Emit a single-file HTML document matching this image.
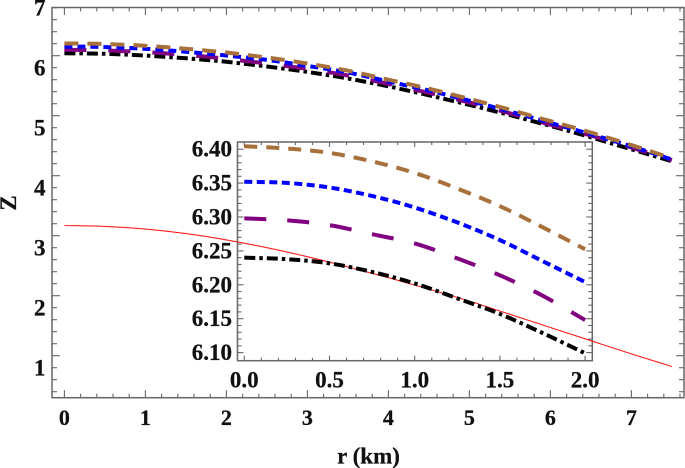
<!DOCTYPE html>
<html lang="en">
<head>
<meta charset="utf-8">
<title>Z versus r chart</title>
<style>
html,body{margin:0;padding:0;background:#fff;}
body{width:685px;height:468px;overflow:hidden;}
svg{display:block;}
text{font-family:"Liberation Serif",serif;font-weight:bold;fill:#111;stroke:#111;stroke-width:0.25px;}
</style>
</head>
<body>
<svg id="chart" xmlns="http://www.w3.org/2000/svg" width="685" height="468" viewBox="0 0 685 468">
  <rect x="0" y="0" width="685" height="468" fill="#fff"/>
  <g id="main-axes"></g>
  <g id="inset-axes"></g>
  <g id="main-series"></g>
  <g id="inset-series"></g>
  <text x="368.5" y="463.3" font-size="23" text-anchor="middle">r (km)</text>
  <text transform="translate(16 203) rotate(-90)" font-size="23" text-anchor="middle">Z</text>
</svg>
<script>
const rValues = [0, 0.25, 0.5, 0.75, 1, 1.25, 1.5, 1.75, 2, 2.5, 3, 3.5, 4, 4.5, 5, 5.5, 6, 6.5, 7, 7.5];
const brownValues = [6.4044, 6.401, 6.3946, 6.382, 6.365, 6.342, 6.316, 6.285, 6.2525, 6.17, 6.07, 5.95, 5.80, 5.65, 5.48, 5.30, 5.11, 4.92, 4.71, 4.49];
const blueValues = [6.352, 6.3503, 6.3435, 6.331, 6.314, 6.292, 6.266, 6.235, 6.204, 6.13, 6.03, 5.92, 5.77, 5.62, 5.45, 5.27, 5.08, 4.89, 4.69, 4.47];
const purpleValues = [6.298, 6.295, 6.288, 6.2746, 6.261, 6.239, 6.214, 6.184, 6.148, 6.07, 5.98, 5.87, 5.73, 5.58, 5.42, 5.24, 5.05, 4.87, 4.67, 4.46];
const blackValues = [6.240, 6.2378, 6.2316, 6.219, 6.202, 6.18, 6.157, 6.129, 6.099, 6.02, 5.93, 5.82, 5.69, 5.54, 5.38, 5.21, 5.03, 4.84, 4.64, 4.44];
const redRValues = [0, 0.5, 1, 1.5, 2, 2.5, 3, 3.5, 4, 4.5, 5, 5.5, 6, 6.5, 7, 7.5];
const redValues = [3.37, 3.355, 3.31, 3.235, 3.13, 3.0, 2.85, 2.68, 2.5, 2.31, 2.11, 1.89, 1.67, 1.45, 1.23, 1.02];
const mainXTicks = ["0", "1", "2", "3", "4", "5", "6", "7"];
const mainYTicks = ["1", "2", "3", "4", "5", "6", "7"];
const insetXTicks = ["0.0", "0.5", "1.0", "1.5", "2.0"];
const insetYTicks = ["6.10", "6.15", "6.20", "6.25", "6.30", "6.35", "6.40"];

const NS = 'http://www.w3.org/2000/svg';
const FRAME = '#666';
const mainBox = {l: 52, r: 684, t: 7.5, b: 397.7};
const insetBox = {l: 237.5, r: 592.3, t: 142, b: 360.7};
const mainX = v => 64.4 + 81 * v;
const mainY = v => 427.7 - 60 * v;
const insetX = v => 244.3 + 170.4 * v;
const insetY = v => 149.2 + (6.40 - v) * 678;

function line(parent, x1, y1, x2, y2, width) {
  const el = document.createElementNS(NS, 'line');
  
  
  el.setAttribute('x1', x1.toFixed(2));
  el.setAttribute('y1', y1.toFixed(2));
  el.setAttribute('x2', x2.toFixed(2));
  el.setAttribute('y2', y2.toFixed(2));
  el.setAttribute('stroke', FRAME);
  el.setAttribute('stroke-width', width);
  parent.appendChild(el);
}

function label(parent, str, x, y, size, anchor) {
  const el = document.createElementNS(NS, 'text');
  
  
  el.setAttribute('x', x.toFixed(2));
  el.setAttribute('y', y.toFixed(2));
  el.setAttribute('font-size', size);
  el.setAttribute('text-anchor', anchor);
  el.textContent = str;
  parent.appendChild(el);
}

function frame(parent, box) {
  const el = document.createElementNS(NS, 'rect');
  
  
  el.setAttribute('x', box.l);
  el.setAttribute('y', box.t);
  el.setAttribute('width', box.r - box.l);
  el.setAttribute('height', box.b - box.t);
  el.setAttribute('fill', 'none');
  el.setAttribute('stroke', FRAME);
  el.setAttribute('stroke-width', 1.5);
  parent.appendChild(el);
}

function xTicks(parent, box, sx, start, end, step, majorEvery, major, minor) {
  const n = Math.round((end - start) / step);
  for (let i = 0; i <= n; i++) {
    const len = i % majorEvery === 0 ? major : minor;
    const x = sx(start + i * step);
    line(parent, x, box.b, x, box.b - len, 1.1);
    line(parent, x, box.t, x, box.t + len, 1.1);
  }
}

function yTicks(parent, box, sy, start, end, step, majorEvery, offset, major, minor) {
  const n = Math.round((end - start) / step);
  for (let i = 0; i <= n; i++) {
    const len = (i + offset) % majorEvery === 0 ? major : minor;
    const y = sy(start + i * step);
    line(parent, box.l, y, box.l + len, y, 1.1);
    line(parent, box.r, y, box.r - len, y, 1.1);
  }
}

function smoothPath(xs, ys, sx, sy) {
  const pts = xs.map((x, i) => [sx(x), sy(ys[i])]);
  let d = 'M' + pts[0][0].toFixed(2) + ' ' + pts[0][1].toFixed(2);
  for (let i = 0; i < pts.length - 1; i++) {
    const p0 = pts[Math.max(0, i - 1)], p1 = pts[i], p2 = pts[i + 1], p3 = pts[Math.min(pts.length - 1, i + 2)];
    const h = p2[0] - p1[0];
    const m1 = (p2[1] - p0[1]) / ((p2[0] - p0[0]) || 1);
    const m2 = (p3[1] - p1[1]) / ((p3[0] - p1[0]) || 1);
    d += ' C' + (p1[0] + h / 3).toFixed(2) + ' ' + (p1[1] + m1 * h / 3).toFixed(2) + ' ' +
      (p2[0] - h / 3).toFixed(2) + ' ' + (p2[1] - m2 * h / 3).toFixed(2) + ' ' +
      p2[0].toFixed(2) + ' ' + p2[1].toFixed(2);
  }
  return d;
}

function drawSeries(parent, xs, ys, sx, sy, color, width, dash, name) {
  const el = document.createElementNS(NS, 'path');
  
  
  el.setAttribute('d', smoothPath(xs, ys, sx, sy));
  el.setAttribute('fill', 'none');
  el.setAttribute('stroke', color);
  el.setAttribute('stroke-width', width);
  if (dash) el.setAttribute('stroke-dasharray', dash);
  parent.appendChild(el);
}

const mainAxes = document.getElementById('main-axes');
const insetAxes = document.getElementById('inset-axes');
const mainSeries = document.getElementById('main-series');
const insetSeries = document.getElementById('inset-series');

xTicks(mainAxes, mainBox, mainX, 0, 7.6, 0.2, 5, 7.5, 4);
yTicks(mainAxes, mainBox, mainY, 0.6, 7, 0.2, 5, 2, 8, 5);
frame(mainAxes, mainBox);
mainXTicks.forEach(t => label(mainAxes, t, mainX(+t), 425, 22, 'middle'));
mainYTicks.forEach(t => label(mainAxes, t, 45.5, mainY(+t) + 8, 23, 'end'));

xTicks(insetAxes, insetBox, insetX, 0, 2, 0.1, 5, 5, 3);
yTicks(insetAxes, insetBox, insetY, 6.10, 6.40, 0.01, 5, 0, 6, 4);
frame(insetAxes, insetBox);
insetXTicks.forEach(t => label(insetAxes, t, insetX(+t), 387.5, 23, 'middle'));
insetYTicks.forEach(t => label(insetAxes, t, 232, insetY(+t) + 7.5, 23, 'end'));

const insetCount = rValues.indexOf(2) + 1;
const rInset = rValues.slice(0, insetCount);

drawSeries(mainSeries, redRValues, redValues, mainX, mainY, '#ff2020', 1.1, null, 'series-red-line');
drawSeries(mainSeries, rValues, blackValues, mainX, mainY, '#000', 4, '11 4 3.5 4', 'series-black-dash-dot');
drawSeries(mainSeries, rValues, purpleValues, mainX, mainY, '#800080', 4, '22 22', 'series-purple-long-dash');
drawSeries(mainSeries, rValues, blueValues, mainX, mainY, '#0000ff', 4, '8 5', 'series-blue-short-dash');
drawSeries(mainSeries, rValues, brownValues, mainX, mainY, '#a8703a', 4, '14 9', 'series-brown-dash');

drawSeries(insetSeries, rInset, blackValues.slice(0, insetCount), insetX, insetY, '#000', 4, '11 4 3.5 4', 'inset-series-black-dash-dot');
drawSeries(insetSeries, rInset, purpleValues.slice(0, insetCount), insetX, insetY, '#800080', 4, '22 21', 'inset-series-purple-long-dash');
drawSeries(insetSeries, rInset, blueValues.slice(0, insetCount), insetX, insetY, '#0000ff', 4, '8 4.5', 'inset-series-blue-short-dash');
drawSeries(insetSeries, rInset, brownValues.slice(0, insetCount), insetX, insetY, '#a8703a', 4, '13 9', 'inset-series-brown-dash');
</script>
</body>
</html>
